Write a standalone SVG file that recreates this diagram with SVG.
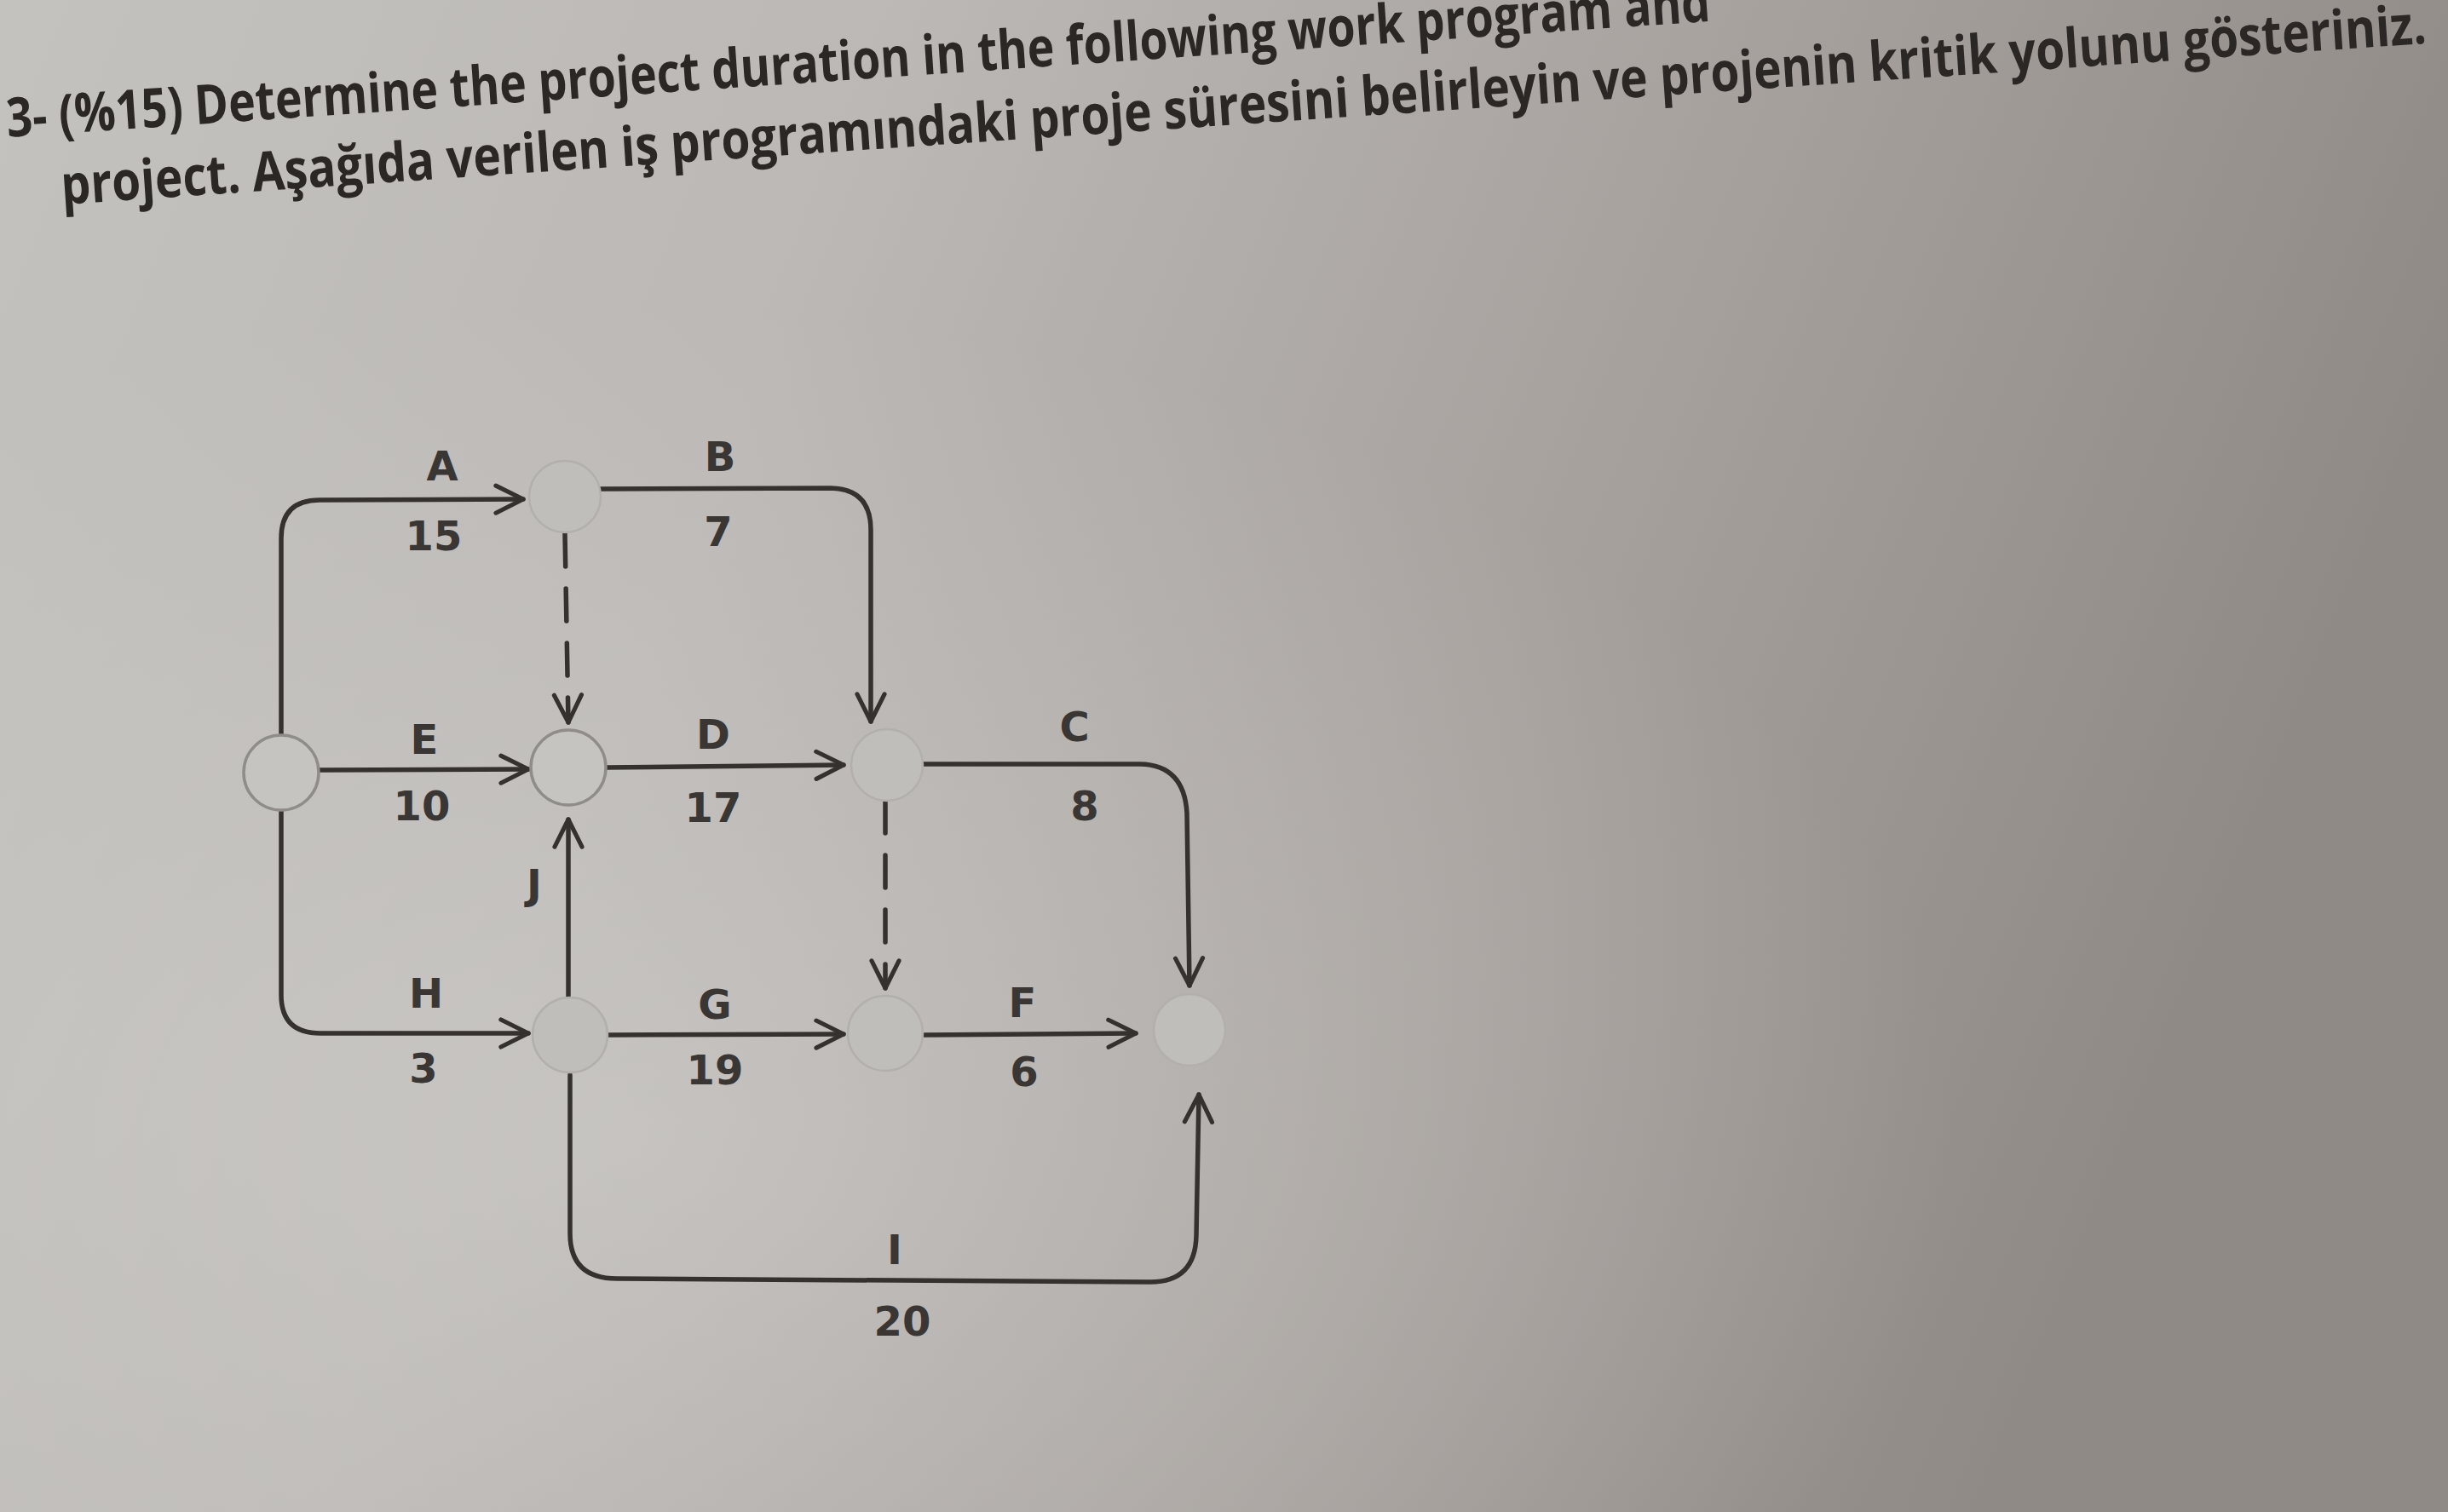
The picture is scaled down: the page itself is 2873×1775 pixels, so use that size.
<svg xmlns="http://www.w3.org/2000/svg" width="2873" height="1775" viewBox="0 0 2873 1775">
<defs>
<linearGradient id="bg" x1="0" y1="0" x2="1" y2="0.25">
<stop offset="0" stop-color="#c4c2bf"/>
<stop offset="0.35" stop-color="#bbb8b5"/>
<stop offset="0.7" stop-color="#a5a09c"/>
<stop offset="1" stop-color="#8f8a86"/>
</linearGradient>
<radialGradient id="glow" cx="0.25" cy="0.75" r="0.55">
<stop offset="0" stop-color="#d2d0cd" stop-opacity="0.55"/>
<stop offset="1" stop-color="#d2d0cd" stop-opacity="0"/>
</radialGradient>
<marker id="arr" viewBox="0 0 12 12" refX="11" refY="6" markerWidth="7" markerHeight="7" orient="auto" markerUnits="strokeWidth">
<path d="M1,1 L11,6 L1,11" fill="none" stroke="#35312f" stroke-width="1.6" stroke-linecap="round" stroke-linejoin="round"/>
</marker>
</defs>
<style>
.title{font-family:"Open Sans","Liberation Sans",sans-serif;font-weight:700;font-size:64px;fill:#2b2725}
.lbl{font-family:"DejaVu Sans","Liberation Sans",sans-serif;font-weight:700;font-size:48px;fill:#3a3634;text-anchor:middle}
.edge{fill:none;stroke:#35312f;stroke-width:5.5;stroke-linecap:round;stroke-linejoin:round}
.dash{stroke-dasharray:38 26}
.node{fill:#c6c4c1;stroke:#8f8c89;stroke-width:3.5}
.faint{fill:#c0bebb;stroke:#b2afac;stroke-width:2.5}
</style>
<rect x="0" y="0" width="2873" height="1775" fill="url(#bg)"/>
<rect x="0" y="0" width="2873" height="1775" fill="url(#glow)"/>

<g id="header">
<text class="title" x="9" y="161" transform="rotate(-3.9 9 161)" textLength="2004" lengthAdjust="spacingAndGlyphs">3- (%15) Determine the project duration in the following work program and</text>
<text class="title" x="73" y="240" transform="rotate(-3.9 73 240)" textLength="2782" lengthAdjust="spacingAndGlyphs">project. Aşağıda verilen iş programındaki proje süresini belirleyin ve projenin kritik yolunu gösteriniz.</text>
</g>

<g id="connectors">
<g id="edge-A"><path class="edge" d="M330,861 L330,632 Q330,587 375,587 L614,586" marker-end="url(#arr)"/><text class="lbl" x="519" y="564">A</text><text class="lbl" x="509" y="646">15</text></g>
<g id="edge-B"><path class="edge" d="M705,574 L975,573 Q1022,574 1022,622 L1022,847" marker-end="url(#arr)"/><text class="lbl" x="845" y="553">B</text><text class="lbl" x="843" y="641">7</text></g>
<g id="edge-E"><path class="edge" d="M374,904 L620,903" marker-end="url(#arr)"/><text class="lbl" x="498" y="885">E</text><text class="lbl" x="495" y="963">10</text></g>
<g id="edge-D"><path class="edge" d="M711,901 L990,898" marker-end="url(#arr)"/><text class="lbl" x="837" y="879">D</text><text class="lbl" x="837" y="965">17</text></g>
<g id="dummy-1"><path class="edge dash" d="M663,627 L667,848" marker-end="url(#arr)"/></g>
<g id="edge-C"><path class="edge" d="M1081,897 L1338,897 Q1390,898 1393,955 L1396,1157" marker-end="url(#arr)"/><text class="lbl" x="1261" y="870">C</text><text class="lbl" x="1273" y="963">8</text></g>
<g id="edge-H"><path class="edge" d="M330,953 L330,1168 Q330,1213 376,1213 L620,1213" marker-end="url(#arr)"/><text class="lbl" x="500" y="1183">H</text><text class="lbl" x="497" y="1271">3</text></g>
<g id="edge-J"><path class="edge" d="M667,1172 L667,962" marker-end="url(#arr)"/><text class="lbl" x="627" y="1055">J</text></g>
<g id="edge-G"><path class="edge" d="M713,1215 L990,1214" marker-end="url(#arr)"/><text class="lbl" x="839" y="1196">G</text><text class="lbl" x="839" y="1273">19</text></g>
<g id="dummy-2"><path class="edge dash" d="M1039,940 L1039,1160" marker-end="url(#arr)"/></g>
<g id="edge-F"><path class="edge" d="M1085,1215 L1333,1213" marker-end="url(#arr)"/><text class="lbl" x="1200" y="1194">F</text><text class="lbl" x="1202" y="1275">6</text></g>
<g id="edge-I"><path class="edge" d="M669,1262 L669,1448 Q669,1501 724,1501 L1350,1505 Q1403,1505 1404,1450 L1407,1285" marker-end="url(#arr)"/><text class="lbl" x="1050" y="1484">I</text><text class="lbl" x="1059" y="1568">20</text></g>
</g>

<g id="node-1"><circle class="node" cx="330" cy="907" r="44"/></g>
<g id="node-2"><circle class="faint" cx="663" cy="583" r="42"/></g>
<g id="node-3"><circle class="node" cx="667" cy="901" r="44"/></g>
<g id="node-4"><circle class="faint" cx="1041" cy="898" r="42"/></g>
<g id="node-5"><circle class="faint" cx="669" cy="1215" r="44"/></g>
<g id="node-6"><circle class="faint" cx="1039" cy="1213" r="44"/></g>
<g id="node-7"><circle class="faint" cx="1396" cy="1209" r="42"/></g>
</svg>
